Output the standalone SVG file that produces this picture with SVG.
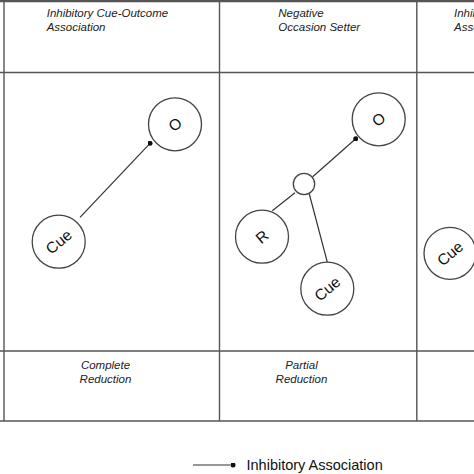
<svg xmlns="http://www.w3.org/2000/svg" width="474" height="474" viewBox="0 0 474 474">
<style>
.grid{stroke:#555;stroke-width:1.4;fill:none}
.node{fill:#fff;stroke:#444;stroke-width:1.3}
.edge{stroke:#333;stroke-width:1.2;fill:none}
.hdr{font-family:"Liberation Sans",Arial,sans-serif;font-style:italic;font-size:11.5px;fill:#222}
.lbl{font-family:"Liberation Sans",Arial,sans-serif;font-size:15.5px;fill:#111;text-anchor:middle;dominant-baseline:central}
.leg{font-family:"Liberation Sans",Arial,sans-serif;font-size:14.5px;fill:#111}
</style>
<defs>
<marker id="dot" viewBox="0 0 6 6" refX="3" refY="3" markerWidth="5" markerHeight="5" markerUnits="userSpaceOnUse"><circle cx="3" cy="3" r="3" fill="#111"/></marker>
</defs>
<rect width="474" height="474" fill="#fff"/>
<g id="grid">
<line class="grid" x1="0" y1="1" x2="474" y2="1" style="stroke-width:2.5"/>
<line class="grid" x1="0" y1="72.5" x2="474" y2="72.5"/>
<line class="grid" x1="0" y1="351" x2="474" y2="351"/>
<line class="grid" x1="0" y1="421" x2="474" y2="421"/>
<line class="grid" x1="4" y1="0" x2="4" y2="421"/>
<line class="grid" x1="219.5" y1="0" x2="219.5" y2="421"/>
<line class="grid" x1="416.8" y1="0" x2="416.8" y2="421"/>
</g>
<g id="headers">
<text class="hdr" x="46.7" y="17">Inhibitory Cue-Outcome</text>
<text class="hdr" x="46.7" y="31">Association</text>
<text class="hdr" x="278.3" y="17">Negative</text>
<text class="hdr" x="278.3" y="31">Occasion Setter</text>
<text class="hdr" x="454" y="17">Inhibitory</text>
<text class="hdr" x="454" y="31">Association</text>
</g>
<g id="footers">
<text class="hdr" x="105.5" y="369" text-anchor="middle">Complete</text>
<text class="hdr" x="105.5" y="383" text-anchor="middle">Reduction</text>
<text class="hdr" x="301.5" y="369" text-anchor="middle">Partial</text>
<text class="hdr" x="301.5" y="383" text-anchor="middle">Reduction</text>
</g>
<g id="connectors">
<line class="edge" x1="80" y1="217.3" x2="150" y2="143.3" marker-end="url(#dot)"/>
<line class="edge" x1="312.7" y1="176.7" x2="355.7" y2="138.7" marker-end="url(#dot)"/>
<line class="edge" x1="295" y1="192.7" x2="272.3" y2="210.7"/>
<line class="edge" x1="309.3" y1="194" x2="327.3" y2="262.2"/>
</g>
<g id="n1-O"><circle class="node" cx="175" cy="124.3" r="26.5"/><text class="lbl" transform="translate(175,124.3) rotate(-40)">O</text></g>
<g id="n1-Cue"><circle class="node" cx="58.7" cy="241.7" r="26.5"/><text class="lbl" transform="translate(58.7,241.7) rotate(-40)">Cue</text></g>
<g id="n2-O"><circle class="node" cx="378.7" cy="119.3" r="26.5"/><text class="lbl" transform="translate(378.7,119.3) rotate(-40)">O</text></g>
<g id="n2-mid"><circle class="node" cx="304" cy="184" r="10.7"/></g>
<g id="n2-R"><circle class="node" cx="262" cy="236.7" r="26.5"/><text class="lbl" transform="translate(262,236.7) rotate(-40)">R</text></g>
<g id="n2-Cue"><circle class="node" cx="327.3" cy="288.7" r="26.5"/><text class="lbl" transform="translate(327.3,288.7) rotate(-40)">Cue</text></g>
<g id="n3-Cue"><circle class="node" cx="450" cy="253.3" r="26"/><text class="lbl" transform="translate(450,253.3) rotate(-40)">Cue</text></g>
<g id="legend">
<line class="edge" x1="193" y1="465" x2="233" y2="465" marker-end="url(#dot)"/>
<text class="leg" x="246.5" y="469.5">Inhibitory Association</text>
</g>
</svg>
